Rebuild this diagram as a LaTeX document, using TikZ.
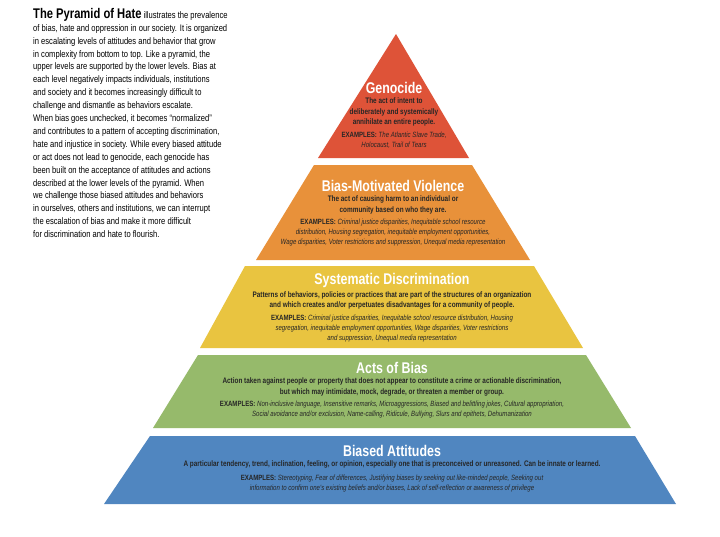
\documentclass[tikz,border=0pt]{standalone}
\usepackage{fontspec}
\setmainfont{Liberation Sans}
\newfontfamily\condfont{Liberation Sans}[FakeStretch=0.8]
\usetikzlibrary{positioning}

\begin{document}
\begin{tikzpicture}[x=1pt, y=-1pt,
	layer/.style={draw=none},
	ttl/.style={font=\condfont\bfseries\fontsize{15.5}{16}\selectfont, text=white, inner sep=0pt},
	desc/.style={font=\condfont\bfseries\fontsize{8}{10.5}\selectfont, text=black!85, align=center, inner sep=0pt},
	ex/.style={font=\condfont\itshape\fontsize{7.6}{9.8}\selectfont, text=black!85, align=center, inner sep=0pt}
	]
	\definecolor{cgeno}{RGB}{222,83,56}
	\definecolor{cviol}{RGB}{232,145,58}
	\definecolor{cdisc}{RGB}{233,196,64}
	\definecolor{cacts}{RGB}{150,186,107}
	\definecolor{catti}{RGB}{80,134,192}
	
	% Canvas
	\useasboundingbox (0,0) rectangle (720,536);
	\fill[white] (0,0) rectangle (720,536);
	
	% Intro text
	\node[anchor=north west, align=left, inner sep=0pt,
	font=\condfont\fontsize{9.5}{12.9}\selectfont] (intro) at (33,8) {%
		{\fontsize{14}{12.9}\selectfont\bfseries The Pyramid of Hate} illustrates the prevalence\\
		of bias, hate and oppression in our society. It is organized\\
		in escalating levels of attitudes and behavior that grow\\
		in complexity from bottom to top. Like a pyramid, the\\
		upper levels are supported by the lower levels. Bias at\\
		each level negatively impacts individuals, institutions\\
		and society and it becomes increasingly difficult to\\
		challenge and dismantle as behaviors escalate.\\
		When bias goes unchecked, it becomes “normalized”\\
		and contributes to a pattern of accepting discrimination,\\
		hate and injustice in society. While every biased attitude\\
		or act does not lead to genocide, each genocide has\\
		been built on the acceptance of attitudes and actions\\
		described at the lower levels of the pyramid. When\\
		we challenge those biased attitudes and behaviors\\
		in ourselves, others and institutions, we can interrupt\\
		the escalation of bias and make it more difficult\\
		for discrimination and hate to flourish.};
	
	% Layers
	\fill[layer, cgeno] (396,34) -- (469,158) -- (318,158) -- cycle;
	\fill[layer, cviol] (314,165) -- (472,165) -- (530,260) -- (256,260) -- cycle;
	\fill[layer, cdisc] (245,266) -- (534,266) -- (583,348) -- (200,348) -- cycle;
	\fill[layer, cacts] (198,355) -- (586,355) -- (631,428) -- (153,428) -- cycle;
	\fill[layer, catti] (150,436) -- (635,436) -- (676,504) -- (104,504) -- cycle;
	
	% Genocide
	\node[ttl] (genoT) at (394,88) {Genocide};
	\node[desc, below=4pt of genoT] (genoD) {The act of intent to\\deliberately and systemically\\annihilate an entire people.};
	\node[ex, below=5pt of genoD] (genoE) {{\upshape\bfseries EXAMPLES:} The Atlantic Slave Trade,\\Holocaust, Trail of Tears};
	
	% Bias-Motivated Violence
	\node[ttl] (violT) at (393,186) {Bias-Motivated Violence};
	\node[desc, below=4pt of violT] (violD) {The act of causing harm to an individual or\\community based on who they are.};
	\node[ex, below=5pt of violD] (violE) {{\upshape\bfseries EXAMPLES:} Criminal justice disparities, Inequitable school resource\\distribution, Housing segregation, inequitable employment opportunities,\\Wage disparities, Voter restrictions and suppression, Unequal media representation};
	
	% Systematic Discrimination
	\node[ttl] (discT) at (392,280) {Systematic Discrimination};
	\node[desc, below=4pt of discT] (discD) {Patterns of behaviors, policies or practices that are part of the structures of an organization\\and which creates and/or perpetuates disadvantages for a community of people.};
	\node[ex, below=5pt of discD] (discE) {{\upshape\bfseries EXAMPLES:} Criminal justice disparities, Inequitable school resource distribution, Housing\\segregation, inequitable employment opportunities, Wage disparities, Voter restrictions\\and suppression, Unequal media representation};
	
	% Acts of Bias
	\node[ttl] (actsT) at (392,368) {Acts of Bias};
	\node[desc, below=4pt of actsT] (actsD) {Action taken against people or property that does not appear to constitute a crime or actionable discrimination,\\but which may intimidate, mock, degrade, or threaten a member or group.};
	\node[ex, below=5pt of actsD] (actsE) {{\upshape\bfseries EXAMPLES:} Non-inclusive language, Insensitive remarks, Microaggressions, Biased and belittling jokes, Cultural appropriation,\\Social avoidance and/or exclusion, Name-calling, Ridicule, Bullying, Slurs and epithets, Dehumanization};
	
	% Biased Attitudes
	\node[ttl] (attiT) at (392,451) {Biased Attitudes};
	\node[desc, below=4pt of attiT] (attiD) {A particular tendency, trend, inclination, feeling, or opinion, especially one that is preconceived or unreasoned. Can be innate or learned.};
	\node[ex, below=6pt of attiD] (attiE) {{\upshape\bfseries EXAMPLES:} Stereotyping, Fear of differences, Justifying biases by seeking out like-minded people, Seeking out\\information to confirm one's existing beliefs and/or biases, Lack of self-reflection or awareness of privilege};
	
\end{tikzpicture}
\end{document}
